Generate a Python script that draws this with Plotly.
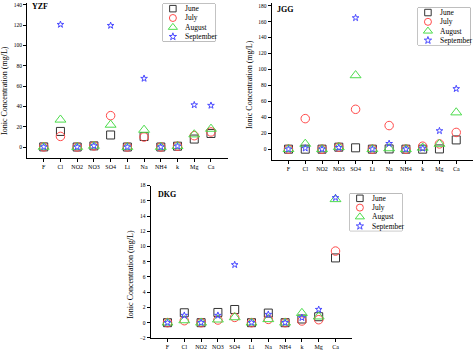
import plotly.graph_objects as go

ions = ["F", "Cl", "NO2", "NO3", "SO4", "Li", "Na", "NH4", "k", "Mg", "Ca"]
months = ["June", "July", "August", "September"]

yzf_june = [0.3, 15.5, 0.2, 1.3, 12, 0.2, 10.5, 0.2, 1.0, 8, 13.5]
yzf_july = [0.3, 10.6, 0.2, 1.3, 31, 0.2, 10, 0.2, 1.0, 11.3, 15]
yzf_aug = [0.3, 27, 0.2, 1.3, 22, 0.2, 17, 0.2, 1.0, 12.5, 18]
yzf_sep = [0.3, 120.5, 0.2, 1.3, 119.5, 0.2, 67.5, 0.2, 1.0, 41.5, 41]

jgg_june = [0, 0, 0, 2.5, 1.7, 0, 0.3, 0, 0, 0.3, 11.6]
jgg_july = [0, 38.3, 0, 2.5, 50, 0, 29.6, 0, 3.7, 6.6, 21]
jgg_aug = [0, 6.6, 0, 2.5, 92.6, 0, 1, 0, 1.7, 6.6, 46]
jgg_sep = [0, 1.2, 0, 2, 164.7, 0, 7, 0, 1, 23, 75.8]

dkg_june = [0, 1.3, 0, 1.34, 1.73, 0, 1.26, 0, 0.48, 0.78, 8.5]
dkg_july = [0, 0.26, 0, 0.35, 0.69, 0, 0.43, 0, 0.22, 0.39, 9.4]
dkg_aug = [0, 0.3, 0, 0.4, 0.7, 0, 0.45, 0, 1.26, 0.8, 16.2]
dkg_sep = [0, 0.95, 0, 0.95, 7.6, 0, 1.08, 0, 0.65, 1.73, 16.4]

panels = [
    ("YZF", [yzf_june, yzf_july, yzf_aug, yzf_sep]),
    ("JGG", [jgg_june, jgg_july, jgg_aug, jgg_sep]),
    ("DKG", [dkg_june, dkg_july, dkg_aug, dkg_sep]),
]

W, H = 474, 353
FONT = "Liberation Serif"
colors = ["#333333", "#ff4a4a", "#4cdc4c", "#4a4aff"]
symbols = ["square-open", "circle-open", "triangle-up-open", "star-open"]
sizes = [8, 8.5, 9.5, 5]
leg_sizes = [6.5, 7, 8, 5.5]


def fx(p):
    return p / W


def fy(p):
    return 1 - p / H


# layout geometry (pixels)
geo = {
    "YZF": dict(x=(27, 227.7), y=(157.7, 0), rng=[-10.62, 141.64], dtick=20,
                title=(4.5, 89), label=(29.5, 3.5), box=(163, 215, 1, 39)),
    "JGG": dict(x=(271.7, 473), y=(159.3, 0), rng=[-13.07, 183.33], dtick=20,
                title=(249.5, 83), label=(274.5, 7), box=(418, 470.3, 5, 42.7)),
    "DKG": dict(x=(150.7, 352.3), y=(340.7, 185.7), rng=[-2, 18], dtick=2,
                title=(130.5, 276), label=(155.5, 195), box=(350, 402, 194, 231.7)),
}

fig = go.Figure()
layout = dict(
    width=W, height=H, margin=dict(l=0, r=0, t=0, b=0),
    paper_bgcolor="white", plot_bgcolor="white", showlegend=False,
    font=dict(family=FONT, color="black"),
)
annotations = []
shapes = []

for i, (name, series) in enumerate(panels):
    g = geo[name]
    k = i + 1
    xa = "x" if k == 1 else f"x{k}"
    ya = "y" if k == 1 else f"y{k}"
    for m, vals in enumerate(series):
        fig.add_trace(go.Scatter(
            x=ions, y=vals, mode="markers", name=months[m],
            xaxis=xa, yaxis=ya,
            marker=dict(symbol=symbols[m], size=sizes[m], color=colors[m],
                        line=dict(width=1, color=colors[m])),
        ))
    key = "" if k == 1 else str(k)
    layout["xaxis" + key] = dict(
        domain=[fx(g["x"][0]), fx(g["x"][1])], anchor=ya, type="category",
        range=[-1, 11], showline=True, linecolor="black", linewidth=1,
        ticks="outside", ticklen=3, tickwidth=1, tickcolor="black",
        showgrid=False, zeroline=False, tickfont=dict(size=6, family=FONT),
    )
    layout["yaxis" + key] = dict(
        domain=[fy(g["y"][0]), fy(g["y"][1])], anchor=xa,
        range=g["rng"], dtick=g["dtick"], tick0=0, showline=True,
        linecolor="black", linewidth=1, ticks="outside", ticklen=3,
        tickwidth=1, tickcolor="black", showgrid=False, zeroline=False,
        tickfont=dict(size=5.5, family=FONT),
    )
    # y-axis title
    annotations.append(dict(
        text="Ionic Concentration (mg/L)", xref="paper", yref="paper",
        x=fx(g["title"][0]), y=fy(g["title"][1]), textangle=-90,
        showarrow=False, xanchor="center", yanchor="middle",
        font=dict(size=8, family=FONT),
    ))
    # panel label
    annotations.append(dict(
        text=f"<b>{name}</b>", xref="paper", yref="paper",
        x=fx(g["label"][0]), y=fy(g["label"][1]), showarrow=False,
        xanchor="left", yanchor="middle", font=dict(size=8, family=FONT),
    ))
    # legend box on its own small axis pair
    bx0, bx1, by0, by1 = g["box"]
    lk = str(k + 3)
    layout["xaxis" + lk] = dict(domain=[fx(bx0), fx(bx1)], range=[0, 1],
                                visible=False, anchor="y" + lk, fixedrange=True)
    layout["yaxis" + lk] = dict(domain=[fy(by1), fy(by0)], range=[3.5, -0.5],
                                visible=False, anchor="x" + lk, fixedrange=True)
    shapes.append(dict(type="rect", xref="x" + lk + " domain", yref="y" + lk + " domain",
                       x0=0, x1=1, y0=0, y1=1, line=dict(color="#888888", width=1),
                       fillcolor="white", layer="below"))
    for m in range(4):
        fig.add_trace(go.Scatter(
            x=[0.19], y=[m], mode="markers", xaxis="x" + lk, yaxis="y" + lk,
            marker=dict(symbol=symbols[m], size=leg_sizes[m], color=colors[m],
                        line=dict(width=1, color=colors[m])),
            hoverinfo="skip",
        ))
        annotations.append(dict(
            text=months[m], xref="x" + lk, yref="y" + lk, x=0.39, y=m,
            showarrow=False, xanchor="left", yanchor="middle",
            font=dict(size=7.5, family=FONT),
        ))

layout["annotations"] = annotations
layout["shapes"] = shapes
fig.update_layout(**layout)
fig.write_html("out.html")
